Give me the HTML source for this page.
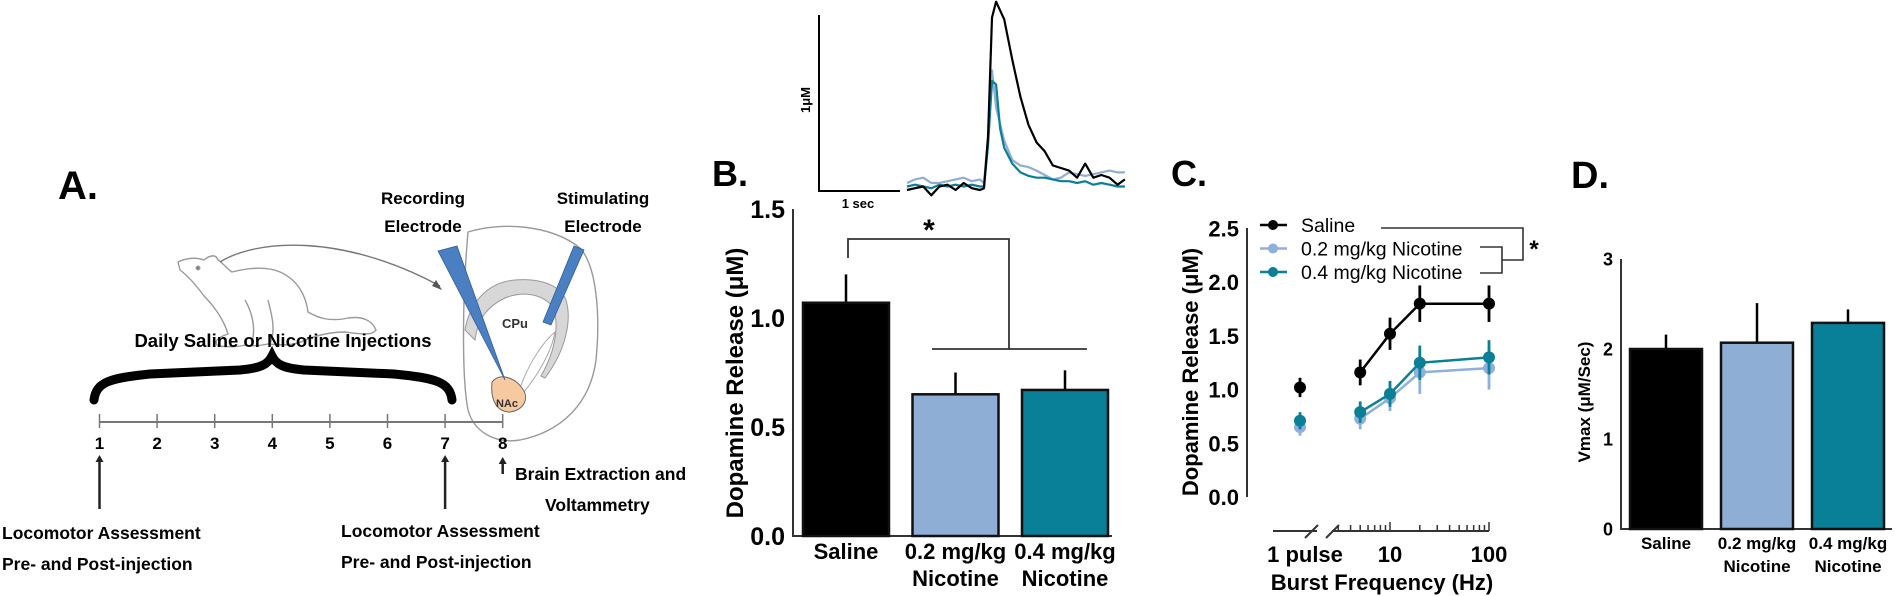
<!DOCTYPE html>
<html><head><meta charset="utf-8"><style>
html,body{margin:0;padding:0;background:#fff;}
svg{display:block;font-family:"Liberation Sans",Arial,sans-serif;}
.b{font-weight:bold;}
</style></head><body>
<svg id="fig" width="1895" height="596" viewBox="0 0 1895 596" xmlns="http://www.w3.org/2000/svg">
<rect width="1895" height="596" fill="#fff"/>

<!-- PANEL A -->
<g id="panelA">
  <text x="58" y="199" class="b" font-size="40">A.</text>
  <g fill="none" stroke="#9a9a9a" stroke-width="1.4">
    <path d="M178,262 C186,258 196,257 204,260 C210,255 216,254 218,260 C222,262 226,268 232,272 C248,268 266,266 280,272 C298,280 306,296 308,312 C318,318 330,322 348,318 C362,316 372,320 376,330 C372,336 360,334 345,332 C330,332 318,335 305,340 C296,346 280,345 268,344 C258,346 250,346 245,345 C238,347 228,347 218,346 C212,340 222,336 228,334 C224,320 214,306 204,296 C196,285 188,276 180,270 Z"/>
    <path d="M245,300 C252,312 256,328 252,342"/>
    <path d="M268,300 C272,316 276,330 270,344"/>
    <circle cx="198" cy="268" r="1.8" fill="#777"/>
  </g>
  <path d="M220,262 C255,240 340,232 440,286" fill="none" stroke="#777" stroke-width="1.4"/>
  <polygon points="442,290 432,286 436,280" fill="#555"/>
  <g>
    <path d="M468,232 C500,222 550,224 580,248 C598,268 600,320 596,360 C590,405 560,432 520,440 C495,444 474,432 468,410 C462,380 462,300 468,232 Z" fill="none" stroke="#999" stroke-width="1.4"/>
    <path d="M465,330 C470,300 490,282 515,280 C540,278 560,285 566,300 C572,320 566,350 545,378 L541,376 C556,350 560,322 552,306 C540,292 520,292 505,298 C488,306 478,318 475,340 Z" fill="#d7d7d7" stroke="#999" stroke-width="1"/>
    <path d="M520,388 C530,360 545,340 555,332 C552,350 540,372 524,392 Z" fill="none" stroke="#aaa" stroke-width="1"/>
    <text x="515" y="328" text-anchor="middle" class="b" font-size="13" fill="#333">CPu</text>
    <path d="M492,382 C500,372 515,378 522,388 C530,398 524,410 510,412 C498,412 490,402 492,382 Z" fill="#f7c9a0" stroke="#666" stroke-width="1"/>
    <text x="507" y="407" text-anchor="middle" class="b" font-size="11" fill="#333">NAc</text>
  </g>
  <polygon points="438,251 457,246 505,380" fill="#4a7fc1" stroke="#2f5f9a" stroke-width="0.8"/>
  <polygon points="574,246 584,250 551,325 543,322" fill="#4a7fc1" stroke="#2f5f9a" stroke-width="0.8"/>
  <text class="b" font-size="17" text-anchor="middle"><tspan x="423" y="204">Recording</tspan><tspan x="423" y="232">Electrode</tspan></text>
  <text class="b" font-size="17" text-anchor="middle"><tspan x="603" y="204">Stimulating</tspan><tspan x="603" y="232">Electrode</tspan></text>
  <text x="283" y="347" text-anchor="middle" class="b" font-size="18.5">Daily Saline or Nicotine Injections</text>
  <path d="M94,400 C96,382 110,378 150,374 L240,370 C262,368 268,364 272,356 C276,364 282,368 304,370 L394,374 C436,378 450,382 452,400" fill="none" stroke="#000" stroke-width="9" stroke-linecap="round"/>
  <g id="timeline"></g>
  <text class="b" font-size="17.5"><tspan x="2" y="539">Locomotor Assessment</tspan><tspan x="2" y="570">Pre- and Post-injection</tspan></text>
  <text class="b" font-size="17.5"><tspan x="341" y="537">Locomotor Assessment</tspan><tspan x="341" y="568">Pre- and Post-injection</tspan></text>
  <text class="b" font-size="17.5"><tspan x="515" y="480">Brain Extraction and</tspan><tspan x="545" y="511">Voltammetry</tspan></text>
</g>

<g id="panelB">
  <text x="712" y="186" class="b" font-size="36">B.</text>
  <g id="traceG"></g>
  <g id="barsB"></g>
</g>
<g id="panelC">
  <text x="1171" y="186" class="b" font-size="36">C.</text>
</g>
<g id="panelD">
  <text x="1571" y="188" class="b" font-size="38">D.</text>
</g>
</svg>
<script>
const dayLabels = ["1","2","3","4","5","6","7","8"];
const tSaline = [0,0.1,0.2,0.3,0.4,0.5,0.6,0.7,0.8,0.9,0.95,1.0,1.05,1.1,1.2,1.3,1.4,1.5,1.6,1.7,1.8,1.9,2.0,2.1,2.2,2.3,2.4,2.5,2.6,2.69];
const vSaline = [0.0,0.01,0.02,-0.03,0.02,0.03,0.0,0.04,0.01,0.0,0.01,0.3,0.98,1.07,0.97,0.74,0.53,0.37,0.27,0.22,0.14,0.125,0.11,0.07,0.15,0.07,0.085,0.07,0.03,0.06];
const tLow = [0,0.1,0.2,0.3,0.4,0.5,0.6,0.7,0.8,0.9,0.95,1.0,1.05,1.1,1.2,1.3,1.4,1.5,1.6,1.7,1.8,1.9,2.0,2.1,2.2,2.3,2.4,2.5,2.6,2.69];
const vLow = [0.04,0.06,0.07,0.04,0.04,0.05,0.06,0.07,0.05,0.06,0.04,0.3,0.68,0.47,0.28,0.17,0.14,0.13,0.11,0.085,0.06,0.07,0.1,0.09,0.08,0.09,0.1,0.11,0.1,0.1];
const tHigh = [0,0.1,0.2,0.3,0.4,0.5,0.6,0.7,0.8,0.9,0.95,1.0,1.05,1.1,1.15,1.2,1.3,1.4,1.5,1.6,1.7,1.8,1.9,2.0,2.1,2.2,2.3,2.4,2.5,2.6,2.69];
const vHigh = [0.02,0.03,0.02,0.01,0.03,0.02,0.03,0.02,0.03,0.02,0.02,0.25,0.62,0.6,0.35,0.24,0.15,0.1,0.08,0.07,0.07,0.06,0.05,0.05,0.04,0.05,0.03,0.04,0.03,0.02,0.02];
const bCategories = ["Saline","0.2 mg/kg|Nicotine","0.4 mg/kg|Nicotine"];
const bMeans = [1.07,0.65,0.67];
const bErrors = [0.13,0.10,0.09];
const bTicks = ["0.0","0.5","1.0","1.5"];
const cSeries = ["Saline","0.2 mg/kg Nicotine","0.4 mg/kg Nicotine"];
const cFreqs = [5,10,20,100];
const salinePulse = [1.02], salinePulseErr=[0.09];
const lowPulse = [0.65], lowPulseErr=[0.08];
const highPulse = [0.71], highPulseErr=[0.08];
const salineBurst = [1.16,1.52,1.80,1.80];
const salineBurstErr = [0.12,0.15,0.17,0.17];
const lowBurst = [0.73,0.92,1.16,1.20];
const lowBurstErr = [0.10,0.12,0.20,0.20];
const highBurst = [0.79,0.96,1.25,1.30];
const highBurstErr = [0.10,0.12,0.16,0.16];
const cYTicks = ["0.0","0.5","1.0","1.5","2.0","2.5"];
const cXTicks = ["10","100"];
const dCategories = ["Saline","0.2 mg/kg|Nicotine","0.4 mg/kg|Nicotine"];
const dMeans = [2.0,2.07,2.29];
const dErrors = [0.16,0.44,0.15];
const dTicks = ["0","1","2","3"];

const NS="http://www.w3.org/2000/svg";
const colors=["#000000","#8eaed6","#0a7f98"];
function mk(tag,attrs,parent){const e=document.createElementNS(NS,tag);for(const k in attrs)e.setAttribute(k,attrs[k]);parent.appendChild(e);return e;}

(function(){
  const g=document.getElementById('timeline');
  const dx=d=>99.5+(d-1)*57.6;
  let ln=mk('line',{x1:dx(1),x2:dx(8),y1:422,y2:422,stroke:'#777','stroke-width':2},g);
  
  
  dayLabels.forEach((lab,i)=>{
    const x=dx(i+1);
    let t=mk('line',{x1:x,x2:x,y1:414,y2:428,stroke:'#777','stroke-width':1.5},g);
    
    
    let tx=mk('text',{x:x,y:449,'text-anchor':'middle','font-size':17,'font-weight':'bold'},g);
    tx.textContent=lab;
    
    
  });
  [[1,455,509],[7,455,509],[8,457,474]].forEach(a=>{
    const x=dx(a[0]);
    let l=mk('line',{x1:x,x2:x,y1:a[1]+5,y2:a[2],stroke:'#222','stroke-width':2.5},g);
    
    
    mk('polygon',{points:`${x-4},${a[1]+7} ${x},${a[1]} ${x+4},${a[1]+7}`,fill:'#222'},g);
  });
})();

(function(){
  const g=document.getElementById('traceG');
  const tx=t=>907+t*81, ty=v=>190-v*176;
  let sb=mk('path',{d:'M819,15 L819,191 L900,191',fill:'none',stroke:'#000','stroke-width':2},g);
  
  
  let l1=mk('text',{x:0,y:0,transform:'translate(810,100) rotate(-90)','text-anchor':'middle','font-size':13,'font-weight':'bold'},g);
  l1.textContent='1\u03BCM';
  
  
  let l2=mk('text',{x:858,y:208,'text-anchor':'middle','font-size':13,'font-weight':'bold'},g);
  l2.textContent='1 sec';
  
  
  [[tLow,vLow,colors[1],'trace-0.2-nicotine'],[tHigh,vHigh,colors[2],'trace-0.4-nicotine'],[tSaline,vSaline,colors[0],'trace-saline']].forEach(s=>{
    const d=s[0].map((t,i)=>(i?'L':'M')+tx(t).toFixed(1)+','+ty(s[1][i]).toFixed(1)).join(' ');
    let p=mk('path',{d:d,fill:'none',stroke:s[2],'stroke-width':2.2,'stroke-linejoin':'round'},g);
    
    
  });
})();

function barChart(g,o){
  const y=v=>o.y0-v*o.k;
  let ax=mk('path',{d:`M${o.ax},${y(o.max)} L${o.ax},${o.y0} L${o.xEnd},${o.y0}`,fill:'none',stroke:'#333','stroke-width':2},g);
  
  
  o.ticks.forEach(t=>{
    let tt=mk('text',{x:o.ax-8,y:y(parseFloat(t))+o.tfs*0.36,'text-anchor':'end','font-size':o.tfs,'font-weight':'bold'},g);
    tt.textContent=t;
    
    
  });
  o.means.forEach((m,i)=>{
    const x0=o.x0+i*o.step, cx=x0+o.w/2;
    let e=mk('line',{x1:cx,x2:cx,y1:y(m),y2:y(m+o.errs[i]),stroke:'#000','stroke-width':2.5},g);
    
    
    let r=mk('rect',{x:x0,y:y(m),width:o.w,height:o.y0-y(m),fill:colors[i],stroke:'#111','stroke-width':2.5},g);
    
    
    const parts=o.cats[i].split('|');
    parts.forEach((p,j)=>{
      let t=mk('text',{x:cx,y:o.y0+o.lab0+j*o.labStep,'text-anchor':'middle','font-size':o.lfs,'font-weight':'bold'},g);
      t.textContent=p;
      
      
    });
  });
  let yt=mk('text',{x:0,y:0,transform:`translate(${o.titleX},${o.titleY}) rotate(-90)`,'text-anchor':'middle','font-size':o.titleFs,'font-weight':'bold'},g);
  yt.textContent=o.title;
  
  
  return y;
}

(function(){
  const g=document.getElementById('barsB');
  barChart(g,{prefix:'panel-b',y0:536,k:218,max:1.5,ax:793,xEnd:1112,ticks:bTicks,tfs:25,means:bMeans,errs:bErrors,cats:bCategories,x0:803,step:109.5,w:86,lab0:23,labStep:27,lfs:22,title:'Dopamine Release (\u03BCM)',titleX:743,titleY:383,titleFs:24});
  let br=mk('path',{d:'M848,258 L848,239 L1009,239 L1009,349 M932,349 L1087,349',fill:'none',stroke:'#333','stroke-width':1.8},g);
  
  
  let st=mk('text',{x:929,y:240,'text-anchor':'middle','font-size':30,'font-weight':'bold'},g);
  st.textContent='*';
  
  
})();

(function(){
  const g=document.getElementById('panelC');
  const y=v=>497-v*107.4;
  const x=f=>1390+Math.log10(f/10)*99;
  const xPulse=1300;
  let ay=mk('line',{x1:1247,x2:1247,y1:228,y2:497,stroke:'#333','stroke-width':2},g);
  
  
  cYTicks.forEach(t=>{
    let tt=mk('text',{x:1239,y:y(parseFloat(t))+8,'text-anchor':'end','font-size':22,'font-weight':'bold'},g);
    tt.textContent=t;
    
    
  });
  let ax=mk('path',{d:`M1273,531 L1317,531 M1305,538 L1318,525 M1326,538 L1339,525 M1332,531 L${x(100)},531`,fill:'none',stroke:'#333','stroke-width':2},g);
  
  
  [3,4,5,6,7,8,9,10,20,30,40,50,60,70,80,90,100].forEach(f=>{
    const big=(f===10||f===100);
    mk('line',{x1:x(f),x2:x(f),y1:531,y2:big?522:525,stroke:'#333','stroke-width':1.5},g);
  });
  cXTicks.forEach(t=>{
    let tt=mk('text',{x:x(parseFloat(t)),y:562,'text-anchor':'middle','font-size':22,'font-weight':'bold'},g);
    tt.textContent=t;
    
    
  });
  let pl=mk('text',{x:1305,y:562,'text-anchor':'middle','font-size':22,'font-weight':'bold'},g);
  pl.textContent='1 pulse';
  
  
  let xt=mk('text',{x:1382,y:590,'text-anchor':'middle','font-size':22,'font-weight':'bold'},g);
  xt.textContent='Burst Frequency (Hz)';
  
  
  let yt=mk('text',{x:0,y:0,transform:'translate(1198,372) rotate(-90)','text-anchor':'middle','font-size':22,'font-weight':'bold'},g);
  yt.textContent='Dopamine Release (\u03BCM)';
  
  
  const series=[[lowPulse,lowPulseErr,lowBurst,lowBurstErr,'#8fb0dc','0.2'],[highPulse,highPulseErr,highBurst,highBurstErr,'#0a7f96','0.4'],[salinePulse,salinePulseErr,salineBurst,salineBurstErr,'#000','saline']];
  series.forEach(s=>{
    const col=s[4];
    const d=cFreqs.map((f,i)=>(i?'L':'M')+x(f).toFixed(1)+','+y(s[2][i]).toFixed(1)).join(' ');
    let p=mk('path',{d:d,fill:'none',stroke:col,'stroke-width':2.5},g);
    
    
    const pts=[[xPulse,s[0][0],s[1][0]]].concat(cFreqs.map((f,i)=>[x(f),s[2][i],s[3][i]]));
    pts.forEach(q=>{
      let e=mk('line',{x1:q[0],x2:q[0],y1:y(q[1]-q[2]),y2:y(q[1]+q[2]),stroke:col,'stroke-width':2.8},g);
      
      
      let c=mk('circle',{cx:q[0],cy:y(q[1]),r:6,fill:col},g);
      
      
    });
  });
  const legCols=['#000','#8fb0dc','#0a7f96'];
  cSeries.forEach((nm,i)=>{
    const ly=225+i*23.5;
    let l=mk('line',{x1:1260,x2:1287,y1:ly,y2:ly,stroke:legCols[i],'stroke-width':2.5},g);
    
    
    mk('circle',{cx:1273,cy:ly,r:5,fill:legCols[i]},g);
    let t=mk('text',{x:1301,y:ly+7,'font-size':19.5},g);
    t.textContent=nm;
    
    
  });
  let br=mk('path',{d:'M1381,228 L1523,228 L1523,260 L1502,260 M1480,247 L1502,247 L1502,273 L1480,273',fill:'none',stroke:'#333','stroke-width':1.6},g);
  
  
  let st=mk('text',{x:1534,y:257,'text-anchor':'middle','font-size':24,'font-weight':'bold'},g);
  st.textContent='*';
  
  
})();

(function(){
  const g=document.getElementById('panelD');
  barChart(g,{prefix:'panel-d',y0:529,k:90,max:3,ax:1621,xEnd:1892,ticks:dTicks,tfs:18,means:dMeans,errs:dErrors,cats:dCategories,x0:1630,step:91,w:72,lab0:20,labStep:23,lfs:17,title:'Vmax (\u03BCM/Sec)',titleX:1590,titleY:402,titleFs:17});
})();
</script>
</body></html>
